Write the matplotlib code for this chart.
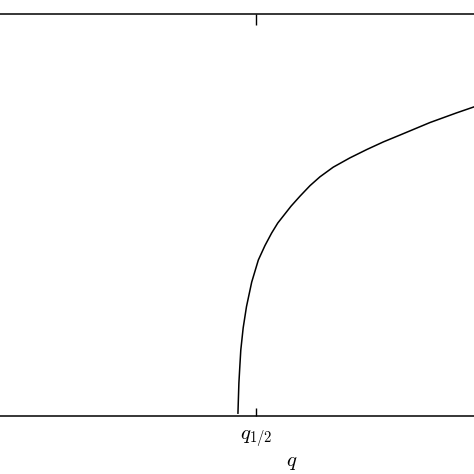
import matplotlib.pyplot as plt

plt.rcParams["mathtext.fontset"] = "cm"

# curve (q normalised to the visible width, y to the frame height)
q_vals = [0.502, 0.503, 0.504, 0.506, 0.508, 0.513, 0.520, 0.531, 0.545, 0.559,
          0.573, 0.586, 0.614, 0.633, 0.654, 0.675, 0.703, 0.738, 0.774, 0.809,
          0.844, 0.907, 0.963, 1.000]
y_vals = [0.007, 0.045, 0.082, 0.124, 0.164, 0.219, 0.272, 0.333, 0.388, 0.424,
          0.455, 0.480, 0.522, 0.547, 0.573, 0.595, 0.619, 0.642, 0.663, 0.682,
          0.699, 0.730, 0.754, 0.769]
q_half = 0.540
tick_labels = ["$q_{1/2}$"]

fig = plt.figure(figsize=(4.74, 4.74), dpi=100)
ax = fig.add_axes([0.0, 0.1224, 1.0, 0.848])

ax.plot(q_vals, y_vals, color="black", lw=1.1)

ax.set_xlim(0, 1)
ax.set_ylim(0, 1)
for side in ["left", "right"]:
    ax.spines[side].set_visible(False)
for side in ["top", "bottom"]:
    ax.spines[side].set_linewidth(1.1)

ax.set_yticks([])
ax.set_xticks([q_half])
ax.set_xticklabels(tick_labels, fontsize=15)
ax.tick_params(axis="x", direction="in", length=6, width=1.0, pad=9)

top = ax.secondary_xaxis("top")
top.set_xticks([q_half])
top.set_xticklabels([])
top.tick_params(direction="in", length=8, width=1.0)
top.spines["top"].set_visible(False)

ax.set_xlabel("$q$", fontsize=15)
ax.xaxis.set_label_coords(0.616, -0.114)
ax.xaxis.label.set_va("center")

fig.savefig("out.png", dpi=100)
